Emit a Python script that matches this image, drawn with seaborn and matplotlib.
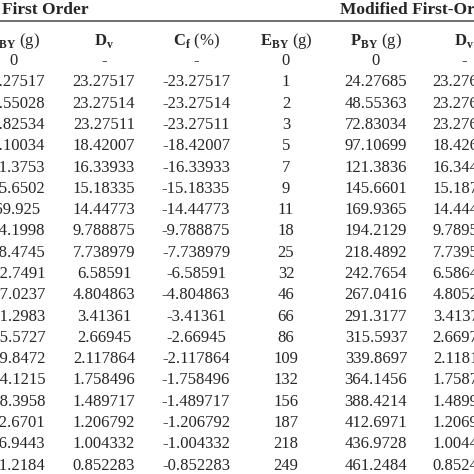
import seaborn as sns
import matplotlib.pyplot as plt

sns.set_theme(style="white")
plt.rcParams['font.family'] = ['Liberation Serif', 'DejaVu Serif']
plt.rcParams['mathtext.fontset'] = 'custom'
plt.rcParams['mathtext.rm'] = 'Liberation Serif'
plt.rcParams['mathtext.bf'] = 'Liberation Serif:bold'

# dữ liệu bảng (bị cắt ở hai bên như ảnh gốc)
p_by_first = ['0', '24.27517', '48.55028', '72.82534', '97.10034', '121.3753', '145.6502',
              '169.925', '194.1998', '218.4745', '242.7491', '267.0237', '291.2983',
              '315.5727', '339.8472', '364.1215', '388.3958', '412.6701', '436.9443', '461.2184']
d_v_first = ['-', '23.27517', '23.27514', '23.27511', '18.42007', '16.33933', '15.18335',
             '14.44773', '9.788875', '7.738979', '6.58591', '4.804863', '3.41361',
             '2.66945', '2.117864', '1.758496', '1.489717', '1.206792', '1.004332', '0.852283']
c_f_first = ['-', '-23.27517', '-23.27514', '-23.27511', '-18.42007', '-16.33933', '-15.18335',
             '-14.44773', '-9.788875', '-7.738979', '-6.58591', '-4.804863', '-3.41361',
             '-2.66945', '-2.117864', '-1.758496', '-1.489717', '-1.206792', '-1.004332', '-0.852283']
e_by = ['0', '1', '2', '3', '5', '7', '9', '11', '18', '25', '32', '46', '66',
        '86', '109', '132', '156', '187', '218', '249']
p_by_mod = ['0', '24.27685', '48.55363', '72.83034', '97.10699', '121.3836', '145.6601',
            '169.9365', '194.2129', '218.4892', '242.7654', '267.0416', '291.3177',
            '315.5937', '339.8697', '364.1456', '388.4214', '412.6971', '436.9728', '461.2484']
d_v_mod = ['-', '23.27685', '23.27678', '23.27671', '18.42625', '16.34464', '15.18797',
           '14.44418', '9.789536', '7.739518', '6.586404', '4.805277', '3.413719',
           '2.669715', '2.118198', '1.758790', '1.489964', '1.206972', '1.004478', '0.852410']

headers = [r'$\mathbf{P}_{\mathbf{BY}}$ (g)', r'$\mathbf{D}_{\mathbf{v}}$', r'$\mathbf{C}_{\mathbf{f}}$ (%)',
           r'$\mathbf{E}_{\mathbf{BY}}$ (g)', r'$\mathbf{P}_{\mathbf{BY}}$ (g)', r'$\mathbf{D}_{\mathbf{v}}$']
columns = [p_by_first, d_v_first, c_f_first, e_by, p_by_mod, d_v_mod]
col_x = [14, 104, 196, 286, 376, 464]

W = H = 474
fig = plt.figure(figsize=(4.74, 4.74), dpi=100)
ax = fig.add_axes([0, 0, 1, 1])
ax.set_xlim(0, W)
ax.set_ylim(H, 0)
ax.axis('off')

ax.text(2, 10, 'First Order', fontsize=12.5, fontweight='bold', ha='left', va='center')
ax.text(340, 10, 'Modified First-Order', fontsize=12.5, fontweight='bold', ha='left', va='center')
ax.axhline(21, color='#555555', lw=1.2)

for x, h, col in zip(col_x, headers, columns):
    ax.text(x, 41, h, fontsize=12, ha='center', va='center')
    for i, v in enumerate(col):
        ax.text(x, 61 + 21.3 * i, v, fontsize=12, ha='center', va='center')

fig.savefig('out.png', dpi=100)
